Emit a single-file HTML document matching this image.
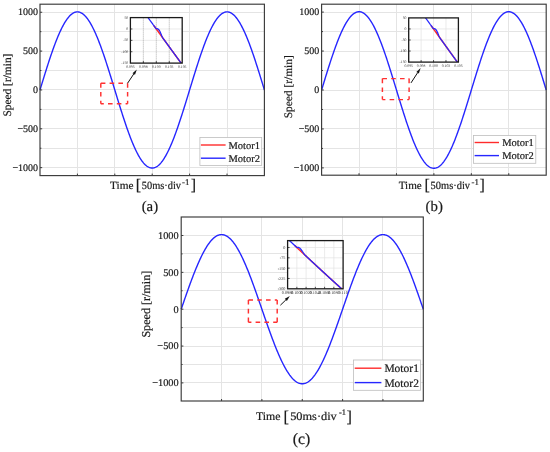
<!DOCTYPE html>
<html><head><meta charset="utf-8"><title>Motor speed</title>
<style>html,body{margin:0;padding:0;background:#fff;width:550px;height:452px;overflow:hidden}svg{display:block;text-rendering:geometricPrecision}text{stroke:#1a1a1a;stroke-width:0.2px}text.s{stroke:none}</style>
</head><body>
<svg width="550" height="452" viewBox="0 0 550 452" font-family="Liberation Serif, Times New Roman, serif" fill="#1a1a1a">
<rect width="550" height="452" fill="#ffffff"/>
<path d="M77.5 4.2V175.6M114.5 4.2V175.6M152.5 4.2V175.6M189.5 4.2V175.6M227.5 4.2V175.6M40 167.5H264.4M40 148.5H264.4M40 128.5H264.4M40 109.5H264.4M40 89.5H264.4M40 70.5H264.4M40 51.5H264.4M40 31.5H264.4M40 12.5H264.4" stroke="#e4e4e4" stroke-width="1.0" fill="none"/>
<path d="M40 89.95L40.5 88.31L41 86.67L41.5 85.02L42 83.39L42.5 81.75L43.01 80.12L43.51 78.49L44.01 76.87L44.51 75.25L45.01 73.64L45.51 72.04L46.01 70.45L46.51 68.86L47.01 67.28L47.51 65.72L48.01 64.16L48.52 62.61L49.02 61.08L49.52 59.56L50.02 58.06L50.52 56.56L51.02 55.09L51.52 53.62L52.02 52.18L52.52 50.75L53.02 49.34L53.52 47.94L54.02 46.57L54.53 45.21L55.03 43.87L55.53 42.56L56.03 41.26L56.53 39.99L57.03 38.74L57.53 37.51L58.03 36.3L58.53 35.12L59.03 33.96L59.53 32.83L60.04 31.72L60.54 30.64L61.04 29.59L61.54 28.56L62.04 27.56L62.54 26.58L63.04 25.64L63.54 24.72L64.04 23.83L64.54 22.97L65.04 22.14L65.55 21.34L66.05 20.57L66.55 19.83L67.05 19.13L67.55 18.45L68.05 17.81L68.55 17.19L69.05 16.61L69.55 16.06L70.05 15.55L70.55 15.07L71.06 14.62L71.56 14.2L72.06 13.82L72.56 13.47L73.06 13.16L73.56 12.87L74.06 12.63L74.56 12.42L75.06 12.24L75.56 12.09L76.06 11.98L76.57 11.91L77.07 11.87L77.57 11.86L78.07 11.89L78.57 11.96L79.07 12.05L79.57 12.19L80.07 12.35L80.57 12.55L81.07 12.79L81.57 13.06L82.07 13.36L82.58 13.7L83.08 14.07L83.58 14.48L84.08 14.91L84.58 15.38L85.08 15.89L85.58 16.43L86.08 17L86.58 17.6L87.08 18.23L87.58 18.9L88.09 19.59L88.59 20.32L89.09 21.08L89.59 21.87L90.09 22.69L90.59 23.54L91.09 24.42L91.59 25.33L92.09 26.26L92.59 27.23L93.09 28.22L93.6 29.24L94.1 30.29L94.6 31.36L95.1 32.46L95.6 33.58L96.1 34.73L96.6 35.91L97.1 37.1L97.6 38.33L98.1 39.57L98.6 40.84L99.11 42.12L99.61 43.43L100.11 44.76L100.61 46.11L101.11 47.48L101.61 48.87L102.11 50.28L102.61 51.7L103.11 53.14L103.61 54.6L104.11 56.07L104.62 57.56L105.12 59.06L105.62 60.57L106.12 62.1L106.62 63.64L107.12 65.2L107.62 66.76L108.12 68.33L108.62 69.92L109.12 71.51L109.62 73.11L110.12 74.72L110.63 76.33L111.13 77.95L111.63 79.58L112.13 81.21L112.63 82.84L113.13 84.48L113.63 86.12L114.13 87.76L114.63 89.4L115.13 91.05L115.63 92.69L116.14 94.33L116.64 95.97L117.14 97.6L117.64 99.24L118.14 100.87L118.64 102.49L119.14 104.11L119.64 105.72L120.14 107.33L120.64 108.92L121.14 110.51L121.65 112.09L122.15 113.66L122.65 115.22L123.15 116.77L123.65 118.31L124.15 119.83L124.65 121.34L125.15 122.84L125.65 124.32L126.15 125.79L126.65 127.24L127.16 128.68L127.66 130.1L128.16 131.5L128.66 132.88L129.16 134.24L129.66 135.58L130.16 136.91L130.66 138.21L131.16 139.49L131.66 140.75L132.16 141.98L132.67 143.2L133.17 144.39L133.67 145.55L134.17 146.69L134.67 147.81L135.17 148.9L135.67 149.96L136.17 151L136.67 152.01L137.17 153L137.67 153.95L138.17 154.88L138.68 155.78L139.18 156.65L139.68 157.49L140.18 158.29L140.68 159.07L141.18 159.82L141.68 160.54L142.18 161.23L142.68 161.88L143.18 162.51L143.68 163.1L144.19 163.66L144.69 164.18L145.19 164.68L145.69 165.14L146.19 165.56L146.69 165.96L147.19 166.32L147.69 166.64L148.19 166.94L148.69 167.19L149.19 167.42L149.7 167.61L150.2 167.76L150.7 167.88L151.2 167.97L151.7 168.02L152.2 168.04L152.7 168.02L153.2 167.97L153.7 167.88L154.2 167.76L154.7 167.61L155.21 167.42L155.71 167.19L156.21 166.94L156.71 166.64L157.21 166.32L157.71 165.96L158.21 165.56L158.71 165.14L159.21 164.68L159.71 164.18L160.21 163.66L160.72 163.1L161.22 162.51L161.72 161.88L162.22 161.23L162.72 160.54L163.22 159.82L163.72 159.07L164.22 158.29L164.72 157.49L165.22 156.65L165.72 155.78L166.22 154.88L166.73 153.95L167.23 153L167.73 152.01L168.23 151L168.73 149.96L169.23 148.9L169.73 147.81L170.23 146.69L170.73 145.55L171.23 144.39L171.73 143.2L172.24 141.98L172.74 140.75L173.24 139.49L173.74 138.21L174.24 136.91L174.74 135.58L175.24 134.24L175.74 132.88L176.24 131.5L176.74 130.1L177.24 128.68L177.75 127.24L178.25 125.79L178.75 124.32L179.25 122.84L179.75 121.34L180.25 119.83L180.75 118.31L181.25 116.77L181.75 115.22L182.25 113.66L182.75 112.09L183.26 110.51L183.76 108.92L184.26 107.33L184.76 105.72L185.26 104.11L185.76 102.49L186.26 100.87L186.76 99.24L187.26 97.6L187.76 95.97L188.26 94.33L188.77 92.69L189.27 91.05L189.77 89.4L190.27 87.76L190.77 86.12L191.27 84.48L191.77 82.84L192.27 81.21L192.77 79.58L193.27 77.95L193.77 76.33L194.28 74.72L194.78 73.11L195.28 71.51L195.78 69.92L196.28 68.33L196.78 66.76L197.28 65.2L197.78 63.64L198.28 62.1L198.78 60.57L199.28 59.06L199.78 57.56L200.29 56.07L200.79 54.6L201.29 53.14L201.79 51.7L202.29 50.28L202.79 48.87L203.29 47.48L203.79 46.11L204.29 44.76L204.79 43.43L205.29 42.12L205.8 40.84L206.3 39.57L206.8 38.33L207.3 37.1L207.8 35.91L208.3 34.73L208.8 33.58L209.3 32.46L209.8 31.36L210.3 30.29L210.8 29.24L211.31 28.22L211.81 27.23L212.31 26.26L212.81 25.33L213.31 24.42L213.81 23.54L214.31 22.69L214.81 21.87L215.31 21.08L215.81 20.32L216.31 19.59L216.82 18.9L217.32 18.23L217.82 17.6L218.32 17L218.82 16.43L219.32 15.89L219.82 15.38L220.32 14.91L220.82 14.48L221.32 14.07L221.82 13.7L222.32 13.36L222.83 13.06L223.33 12.79L223.83 12.55L224.33 12.35L224.83 12.19L225.33 12.05L225.83 11.96L226.33 11.89L226.83 11.86L227.33 11.87L227.83 11.91L228.34 11.98L228.84 12.09L229.34 12.24L229.84 12.42L230.34 12.63L230.84 12.87L231.34 13.16L231.84 13.47L232.34 13.82L232.84 14.2L233.34 14.62L233.85 15.07L234.35 15.55L234.85 16.06L235.35 16.61L235.85 17.19L236.35 17.81L236.85 18.45L237.35 19.13L237.85 19.83L238.35 20.57L238.85 21.34L239.36 22.14L239.86 22.97L240.36 23.83L240.86 24.72L241.36 25.64L241.86 26.58L242.36 27.56L242.86 28.56L243.36 29.59L243.86 30.64L244.36 31.72L244.87 32.83L245.37 33.96L245.87 35.12L246.37 36.3L246.87 37.51L247.37 38.74L247.87 39.99L248.37 41.26L248.87 42.56L249.37 43.87L249.87 45.21L250.37 46.57L250.88 47.94L251.38 49.34L251.88 50.75L252.38 52.18L252.88 53.62L253.38 55.09L253.88 56.56L254.38 58.06L254.88 59.56L255.38 61.08L255.88 62.61L256.39 64.16L256.89 65.72L257.39 67.28L257.89 68.86L258.39 70.45L258.89 72.04L259.39 73.64L259.89 75.25L260.39 76.87L260.89 78.49L261.39 80.12L261.9 81.75L262.4 83.39L262.9 85.02L263.4 86.67L263.9 88.31L264.4 89.95" stroke="#2626ff" stroke-width="1.4" fill="none" stroke-linejoin="round"/>
<path d="M40 167.65H42.2M40 148.23H41.4M40 128.8H42.2M40 109.38H41.4M40 89.95H42.2M40 70.53H41.4M40 51.1H42.2M40 31.67H41.4M40 12.25H42.2M77.4 175.6V173.6M114.8 175.6V173.6M152.2 175.6V173.6M189.6 175.6V173.6M227 175.6V173.6" stroke="#3a3a3a" stroke-width="1" fill="none"/>
<rect x="40" y="4.2" width="224.4" height="171.4" stroke="#3a3a3a" stroke-width="1.15" fill="none"/>
<text x="38.1" y="12.75" font-size="10" text-anchor="end" dominant-baseline="central">1000</text>
<text x="38.1" y="51.6" font-size="10" text-anchor="end" dominant-baseline="central">500</text>
<text x="38.1" y="90.45" font-size="10" text-anchor="end" dominant-baseline="central">0</text>
<text x="38.1" y="129.3" font-size="10" text-anchor="end" dominant-baseline="central">−500</text>
<text x="38.1" y="168.15" font-size="10" text-anchor="end" dominant-baseline="central">−1000</text>
<text transform="translate(10.8 85.1) rotate(-90)" font-size="11.4" text-anchor="middle">Speed [r/min]</text>
<text y="188.8" font-size="11">
<tspan x="110.1" textLength="23.4" lengthAdjust="spacingAndGlyphs">Time</tspan>
<tspan x="135.7" y="189.8" font-size="16">[</tspan>
<tspan x="141.8" y="188.8" textLength="39.2" lengthAdjust="spacingAndGlyphs">50ms·div</tspan>
<tspan x="182" y="184.5" font-size="8.8">-1</tspan>
<tspan x="190.8" y="189.8" font-size="16">]</tspan>
</text>
<text x="149.9" y="211" font-size="14.8" text-anchor="middle">(a)</text>
<rect x="199.9" y="137.4" width="61.8" height="28" fill="#fff" stroke="#bdbdbd" stroke-width="0.8"/>
<path d="M200.9 145H225.6" stroke="#ff2b2b" stroke-width="1.4"/>
<path d="M200.9 158.2H225.6" stroke="#2626ff" stroke-width="1.4"/>
<text x="228.4" y="148.5" font-size="10.5">Motor1</text>
<text x="228.4" y="161.6" font-size="10.5">Motor2</text>
<line x1="100.8" y1="83.2" x2="127.6" y2="83.2" stroke="#ff3030" stroke-width="1.45" stroke-dasharray="4.6 4.2" stroke-dashoffset="0"/>
<line x1="100.8" y1="83.2" x2="100.8" y2="103.7" stroke="#ff3030" stroke-width="1.45" stroke-dasharray="4.6 4.2" stroke-dashoffset="0"/>
<line x1="100.8" y1="103.7" x2="127.6" y2="103.7" stroke="#ff3030" stroke-width="1.45" stroke-dasharray="4.6 4.2" stroke-dashoffset="1.6"/>
<line x1="127.6" y1="83.2" x2="127.6" y2="103.7" stroke="#ff3030" stroke-width="1.45" stroke-dasharray="4.6 4.2" stroke-dashoffset="0"/>
<path d="M127.6 83.2L133.75 73.98" stroke="#111" stroke-width="1"/>
<path d="M136.8 69.4L135 74.81L132.5 73.14Z" fill="#111"/>
<rect x="130.4" y="17.6" width="51.8" height="45.5" fill="#fff"/>
<path d="M130.4 28.98H182.2M130.4 40.35H182.2M130.4 51.73H182.2" stroke="#e2e2e2" stroke-width="0.7" fill="none"/>
<path d="M143.35 17.6V63.1M156.3 17.6V63.1M169.25 17.6V63.1" stroke="#777" stroke-width="0.6" stroke-dasharray="1 1" fill="none"/>
<clipPath id="ca"><rect x="130.4" y="17.6" width="51.8" height="45.5"/></clipPath>
<g clip-path="url(#ca)">
<path d="M153.71 25.4L153.78 25.5L153.85 25.6L153.92 25.7L153.99 25.79L154.07 25.89L154.14 25.99L154.21 26.09L154.28 26.19L154.35 26.29L154.42 26.38L154.49 26.48L154.56 26.58L154.64 26.68L154.71 26.78L154.78 26.88L154.85 26.97L154.92 27.07L154.99 27.17L155.06 27.27L155.13 27.37L155.21 27.47L155.28 27.56L155.35 27.66L155.42 27.76L155.49 27.86L155.56 27.96L155.63 28.05L155.7 28.15L155.78 28.25L155.85 28.35L155.92 28.45L155.99 28.55L156.06 28.64L156.13 28.74L156.2 28.84L156.27 28.94L156.35 29.04L156.42 29.14L156.49 29.23L156.56 29.33L156.63 29.43L156.7 29.53L156.77 29.63L156.84 29.73L156.92 29.82L156.99 29.92L157.06 30.02L157.13 30.12L157.2 30.22L157.27 30.32L157.34 30.41L157.41 30.51L157.48 30.61L157.56 30.71L157.63 30.81L157.7 30.9L157.77 31L157.84 31.1L157.91 31.2L157.98 31.3L158.05 31.4L158.13 31.49L158.2 31.59L158.27 31.69L158.34 31.79L158.41 31.89L158.48 31.99L158.55 32.08L158.62 32.18L158.7 32.28L158.77 32.38L158.84 32.48L158.91 32.58L158.98 32.67L159.05 32.77L159.12 32.87L159.19 32.97L159.27 33.07L159.34 33.16L159.41 33.26L159.48 33.36L159.55 33.46L159.62 33.56L159.69 33.66L159.76 33.75L159.84 33.85L159.91 33.95L159.98 34.05L160.05 34.15L160.12 34.25L160.19 34.34L160.26 34.44L160.33 34.54L160.41 34.64L160.48 34.74L160.55 34.83L160.62 34.93L160.69 35.03L160.76 35.13L160.83 35.23L160.9 35.33L160.97 35.42L161.05 35.52L161.12 35.62L161.19 35.72L161.26 35.82L161.33 35.92L161.4 36.01L161.47 36.11L161.54 36.21L161.62 36.31L161.69 36.41L161.76 36.5L161.83 36.6L161.9 36.7L161.97 36.8L162.04 36.9L162.11 37L162.19 37.09L162.26 37.19L162.33 37.29L162.4 37.39L162.47 37.49L162.54 37.59L162.61 37.68L162.68 37.78L162.76 37.88L162.83 37.98L162.9 38.08L162.97 38.17L163.04 38.27L163.11 38.37L163.18 38.47L163.25 38.57L163.33 38.67L163.4 38.76L163.47 38.86L163.54 38.96L163.61 39.06L163.68 39.16L163.75 39.25L163.82 39.35L163.9 39.45L163.97 39.55L164.04 39.65L164.11 39.75L164.18 39.84L164.25 39.94L164.32 40.04L164.39 40.14L164.46 40.24L164.54 40.33L164.61 40.43L164.68 40.53L164.75 40.63L164.82 40.73L164.89 40.82L164.96 40.92L165.03 41.02L165.11 41.12L165.18 41.22L165.25 41.32L165.32 41.41L165.39 41.51L165.46 41.61L165.53 41.71L165.6 41.81L165.68 41.9L165.75 42L165.82 42.1L165.89 42.2L165.96 42.3L166.03 42.39L166.1 42.49L166.17 42.59L166.25 42.69L166.32 42.79L166.39 42.89L166.46 42.98L166.53 43.08L166.6 43.18L166.67 43.28L166.74 43.38L166.82 43.47L166.89 43.57L166.96 43.67L167.03 43.77L167.1 43.87L167.17 43.96L167.24 44.06L167.31 44.16L167.39 44.26L167.46 44.36L167.53 44.45L167.6 44.55L167.67 44.65L167.74 44.75L167.81 44.85L167.88 44.94L167.96 45.04L168.03 45.14L168.1 45.24L168.17 45.34L168.24 45.43L168.31 45.53L168.38 45.63L168.45 45.73L168.52 45.83L168.6 45.92L168.67 46.02L168.74 46.12L168.81 46.22L168.88 46.32L168.95 46.41L169.02 46.51L169.09 46.61L169.17 46.71L169.24 46.81L169.31 46.9L169.38 47L169.45 47.1L169.52 47.2L169.59 47.3L169.66 47.39L169.74 47.49L169.81 47.59L169.88 47.69L169.95 47.79L170.02 47.88L170.09 47.98L170.16 48.08L170.23 48.18L170.31 48.28L170.38 48.37L170.45 48.47L170.52 48.57L170.59 48.67L170.66 48.77L170.73 48.86L170.8 48.96L170.88 49.06L170.95 49.16L171.02 49.25L171.09 49.35L171.16 49.45L171.23 49.55L171.3 49.65L171.37 49.74L171.45 49.84L171.52 49.94L171.59 50.04L171.66 50.14L171.73 50.23L171.8 50.33L171.87 50.43L171.94 50.53L172.01 50.62L172.09 50.72L172.16 50.82L172.23 50.92L172.3 51.02L172.37 51.11L172.44 51.21L172.51 51.31L172.58 51.41L172.66 51.51L172.73 51.6L172.8 51.7L172.87 51.8L172.94 51.9L173.01 51.99L173.08 52.09L173.15 52.19L173.23 52.29L173.3 52.38L173.37 52.48L173.44 52.58L173.51 52.68L173.58 52.78L173.65 52.87L173.72 52.97L173.8 53.07L173.87 53.17L173.94 53.26L174.01 53.36L174.08 53.46L174.15 53.56L174.22 53.66L174.29 53.75L174.37 53.85L174.44 53.95L174.51 54.05L174.58 54.14L174.65 54.24L174.72 54.34L174.79 54.44L174.86 54.53L174.94 54.63L175.01 54.73L175.08 54.83L175.15 54.92L175.22 55.02L175.29 55.12L175.36 55.22L175.43 55.32L175.5 55.41L175.58 55.51L175.65 55.61L175.72 55.71L175.79 55.8L175.86 55.9L175.93 56L176 56.1L176.07 56.19L176.15 56.29L176.22 56.39L176.29 56.49L176.36 56.58L176.43 56.68L176.5 56.78L176.57 56.88L176.64 56.97L176.72 57.07L176.79 57.17L176.86 57.27L176.93 57.36L177 57.46L177.07 57.56L177.14 57.66L177.21 57.75L177.29 57.85L177.36 57.95L177.43 58.05L177.5 58.14L177.57 58.24L177.64 58.34L177.71 58.44L177.78 58.53L177.86 58.63L177.93 58.73L178 58.83L178.07 58.92L178.14 59.02L178.21 59.12L178.28 59.22L178.35 59.31L178.43 59.41L178.5 59.51L178.57 59.61L178.64 59.7L178.71 59.8L178.78 59.9L178.85 59.99L178.92 60.09L178.99 60.19L179.07 60.29L179.14 60.38L179.21 60.48L179.28 60.58L179.35 60.68L179.42 60.77L179.49 60.87L179.56 60.97L179.64 61.07L179.71 61.16L179.78 61.26L179.85 61.36L179.92 61.45L179.99 61.55L180.06 61.65L180.13 61.75L180.21 61.84L180.28 61.94L180.35 62.04L180.42 62.14L180.49 62.23L180.56 62.33L180.63 62.43L180.7 62.52L180.78 62.62L180.85 62.72L180.92 62.82L180.99 62.91L181.06 63.01L181.13 63.11L181.2 63.2L181.27 63.3L181.35 63.4L181.42 63.5L181.49 63.59L181.56 63.69L181.63 63.79L181.7 63.88L181.77 63.98L181.84 64.08L181.92 64.18L181.99 64.27L182.06 64.37L182.13 64.47L182.2 64.56" stroke="#ff2b2b" stroke-width="1.5" fill="none"/>
<path d="M130.4 -6.61L130.53 -6.44L130.66 -6.26L130.79 -6.08L130.92 -5.91L131.05 -5.73L131.18 -5.55L131.31 -5.38L131.44 -5.2L131.57 -5.02L131.69 -4.85L131.82 -4.67L131.95 -4.49L132.08 -4.32L132.21 -4.14L132.34 -3.96L132.47 -3.79L132.6 -3.61L132.73 -3.43L132.86 -3.26L132.99 -3.08L133.12 -2.9L133.25 -2.73L133.38 -2.55L133.51 -2.37L133.64 -2.2L133.77 -2.02L133.9 -1.84L134.03 -1.66L134.16 -1.49L134.28 -1.31L134.41 -1.13L134.54 -0.96L134.67 -0.78L134.8 -0.6L134.93 -0.42L135.06 -0.25L135.19 -0.07L135.32 0.11L135.45 0.28L135.58 0.46L135.71 0.64L135.84 0.82L135.97 0.99L136.1 1.17L136.23 1.35L136.36 1.53L136.49 1.7L136.62 1.88L136.75 2.06L136.88 2.24L137 2.41L137.13 2.59L137.26 2.77L137.39 2.95L137.52 3.12L137.65 3.3L137.78 3.48L137.91 3.66L138.04 3.83L138.17 4.01L138.3 4.19L138.43 4.37L138.56 4.54L138.69 4.72L138.82 4.9L138.95 5.08L139.08 5.25L139.21 5.43L139.34 5.61L139.47 5.79L139.59 5.96L139.72 6.14L139.85 6.32L139.98 6.5L140.11 6.68L140.24 6.85L140.37 7.03L140.5 7.21L140.63 7.39L140.76 7.57L140.89 7.74L141.02 7.92L141.15 8.1L141.28 8.28L141.41 8.45L141.54 8.63L141.67 8.81L141.8 8.99L141.93 9.17L142.06 9.34L142.18 9.52L142.31 9.7L142.44 9.88L142.57 10.06L142.7 10.24L142.83 10.41L142.96 10.59L143.09 10.77L143.22 10.95L143.35 11.13L143.48 11.3L143.61 11.48L143.74 11.66L143.87 11.84L144 12.02L144.13 12.19L144.26 12.37L144.39 12.55L144.52 12.73L144.65 12.91L144.77 13.09L144.9 13.26L145.03 13.44L145.16 13.62L145.29 13.8L145.42 13.98L145.55 14.16L145.68 14.33L145.81 14.51L145.94 14.69L146.07 14.87L146.2 15.05L146.33 15.23L146.46 15.4L146.59 15.58L146.72 15.76L146.85 15.94L146.98 16.12L147.11 16.3L147.24 16.47L147.36 16.65L147.49 16.83L147.62 17.01L147.75 17.19L147.88 17.37L148.01 17.54L148.14 17.72L148.27 17.9L148.4 18.08L148.53 18.26L148.66 18.44L148.79 18.62L148.92 18.79L149.05 18.97L149.18 19.15L149.31 19.33L149.44 19.51L149.57 19.69L149.7 19.86L149.83 20.04L149.95 20.22L150.08 20.4L150.21 20.58L150.34 20.76L150.47 20.94L150.6 21.11L150.73 21.29L150.86 21.47L150.99 21.65L151.12 21.83L151.25 22.01L151.38 22.19L151.51 22.36L151.64 22.54L151.77 22.72L151.9 22.9L152.03 23.08L152.16 23.26L152.29 23.44L152.42 23.62L152.54 23.79L152.67 23.97L152.8 24.15L152.93 24.33L153.06 24.51L153.19 24.69L153.32 24.87L153.45 25.04L153.58 25.22L153.71 25.4L153.84 25.58L153.97 25.76L154.1 25.94L154.23 26.12L154.36 26.29L154.49 26.47L154.62 26.65L154.75 26.83L154.88 27.01L155.01 27.19L155.13 27.37L155.26 27.55L155.39 27.72L155.52 27.9L155.65 28.08L155.78 28.26L155.91 28.44L156.04 28.62L156.17 28.62L156.3 28.62L156.43 28.62L156.56 28.63L156.69 28.63L156.82 28.64L156.95 28.66L157.08 28.68L157.21 28.71L157.34 28.74L157.47 28.78L157.59 28.83L157.72 28.89L157.85 28.95L157.98 29.03L158.11 29.11L158.24 29.21L158.37 29.31L158.5 29.43L158.63 29.55L158.76 29.69L158.89 29.84L159.02 30L159.15 30.18L159.28 30.36L159.41 30.56L159.54 30.78L159.67 31.01L159.8 31.25L159.93 31.51L160.06 31.78L160.18 32.06L160.31 32.35L160.44 32.64L160.57 32.95L160.7 33.26L160.83 33.58L160.96 33.9L161.09 34.22L161.22 34.54L161.35 34.86L161.48 35.18L161.61 35.49L161.74 35.8L161.87 36.09L162 36.38L162.13 36.66L162.26 36.93L162.39 37.19L162.52 37.43L162.65 37.66L162.77 37.88L162.9 38.08L163.03 38.26L163.16 38.44L163.29 38.62L163.42 38.8L163.55 38.98L163.68 39.16L163.81 39.33L163.94 39.51L164.07 39.69L164.2 39.87L164.33 40.05L164.46 40.23L164.59 40.41L164.72 40.58L164.85 40.76L164.98 40.94L165.11 41.12L165.24 41.3L165.36 41.48L165.49 41.65L165.62 41.83L165.75 42.01L165.88 42.19L166.01 42.37L166.14 42.55L166.27 42.72L166.4 42.9L166.53 43.08L166.66 43.26L166.79 43.44L166.92 43.62L167.05 43.79L167.18 43.97L167.31 44.15L167.44 44.33L167.57 44.51L167.7 44.69L167.83 44.86L167.95 45.04L168.08 45.22L168.21 45.4L168.34 45.58L168.47 45.76L168.6 45.93L168.73 46.11L168.86 46.29L168.99 46.47L169.12 46.65L169.25 46.82L169.38 47L169.51 47.18L169.64 47.36L169.77 47.54L169.9 47.71L170.03 47.89L170.16 48.07L170.29 48.25L170.42 48.43L170.54 48.61L170.67 48.78L170.8 48.96L170.93 49.14L171.06 49.32L171.19 49.5L171.32 49.67L171.45 49.85L171.58 50.03L171.71 50.21L171.84 50.38L171.97 50.56L172.1 50.74L172.23 50.92L172.36 51.1L172.49 51.27L172.62 51.45L172.75 51.63L172.88 51.81L173.01 51.99L173.13 52.16L173.26 52.34L173.39 52.52L173.52 52.7L173.65 52.87L173.78 53.05L173.91 53.23L174.04 53.41L174.17 53.58L174.3 53.76L174.43 53.94L174.56 54.12L174.69 54.29L174.82 54.47L174.95 54.65L175.08 54.83L175.21 55L175.34 55.18L175.47 55.36L175.6 55.54L175.72 55.71L175.85 55.89L175.98 56.07L176.11 56.25L176.24 56.42L176.37 56.6L176.5 56.78L176.63 56.96L176.76 57.13L176.89 57.31L177.02 57.49L177.15 57.67L177.28 57.84L177.41 58.02L177.54 58.2L177.67 58.37L177.8 58.55L177.93 58.73L178.06 58.91L178.19 59.08L178.31 59.26L178.44 59.44L178.57 59.61L178.7 59.79L178.83 59.97L178.96 60.15L179.09 60.32L179.22 60.5L179.35 60.68L179.48 60.85L179.61 61.03L179.74 61.21L179.87 61.38L180 61.56L180.13 61.74L180.26 61.91L180.39 62.09L180.52 62.27L180.65 62.44L180.78 62.62L180.9 62.8L181.03 62.97L181.16 63.15L181.29 63.33L181.42 63.5L181.55 63.68L181.68 63.86L181.81 64.03L181.94 64.21L182.07 64.39L182.2 64.56" stroke="#2626ff" stroke-width="1.3" fill="none"/>
</g>
<path d="M130.4 28.98H132.4M130.4 40.35H132.4M130.4 51.73H132.4M143.35 63.1V61.1M156.3 63.1V61.1M169.25 63.1V61.1" stroke="#222" stroke-width="0.8" fill="none"/>
<rect x="130.4" y="17.6" width="51.8" height="45.5" fill="none" stroke="#1a1a1a" stroke-width="1.3"/>
<text x="128.2" y="17.6" font-size="3.8" text-anchor="end" dominant-baseline="central" fill="#333" class="s">50</text>
<text x="128.2" y="28.98" font-size="3.8" text-anchor="end" dominant-baseline="central" fill="#333" class="s">0</text>
<text x="128.2" y="40.35" font-size="3.8" text-anchor="end" dominant-baseline="central" fill="#333" class="s">-50</text>
<text x="128.2" y="51.73" font-size="3.8" text-anchor="end" dominant-baseline="central" fill="#333" class="s">-100</text>
<text x="128.2" y="63.1" font-size="3.8" text-anchor="end" dominant-baseline="central" fill="#333" class="s">-150</text>
<text x="130.4" y="67.9" font-size="3.8" text-anchor="middle" fill="#333" class="s">0.095</text>
<text x="143.35" y="67.9" font-size="3.8" text-anchor="middle" fill="#333" class="s">0.098</text>
<text x="156.3" y="67.9" font-size="3.8" text-anchor="middle" fill="#333" class="s">0.100</text>
<text x="169.25" y="67.9" font-size="3.8" text-anchor="middle" fill="#333" class="s">0.103</text>
<text x="182.2" y="67.9" font-size="3.8" text-anchor="middle" fill="#333" class="s">0.105</text>
<path d="M359.5 4.2V175.2M396.5 4.2V175.2M433.5 4.2V175.2M471.5 4.2V175.2M508.5 4.2V175.2M321.6 167.5H546.2M321.6 148.5H546.2M321.6 128.5H546.2M321.6 109.5H546.2M321.6 90.5H546.2M321.6 70.5H546.2M321.6 51.5H546.2M321.6 31.5H546.2M321.6 12.5H546.2" stroke="#e4e4e4" stroke-width="1.0" fill="none"/>
<path d="M321.6 90L322.1 88.36L322.6 86.71L323.1 85.07L323.6 83.43L324.1 81.8L324.6 80.17L325.1 78.54L325.6 76.91L326.1 75.3L326.6 73.69L327.1 72.08L327.6 70.49L328.1 68.9L328.6 67.32L329.1 65.76L329.6 64.2L330.1 62.65L330.6 61.12L331.1 59.6L331.6 58.09L332.1 56.6L332.6 55.12L333.11 53.65L333.61 52.21L334.11 50.78L334.61 49.36L335.11 47.97L335.61 46.59L336.11 45.23L336.61 43.89L337.11 42.58L337.61 41.28L338.11 40L338.61 38.75L339.11 37.52L339.61 36.31L340.11 35.13L340.61 33.97L341.11 32.83L341.61 31.72L342.11 30.64L342.61 29.58L343.11 28.55L343.61 27.54L344.11 26.57L344.61 25.62L345.11 24.7L345.61 23.8L346.11 22.94L346.61 22.11L347.11 21.3L347.61 20.53L348.11 19.79L348.61 19.08L349.11 18.4L349.61 17.75L350.11 17.13L350.61 16.55L351.11 15.99L351.61 15.47L352.11 14.99L352.61 14.53L353.11 14.11L353.61 13.73L354.11 13.37L354.61 13.05L355.11 12.77L355.62 12.51L356.12 12.3L356.62 12.11L357.12 11.96L357.62 11.85L358.12 11.77L358.62 11.72L359.12 11.71L359.62 11.73L360.12 11.79L360.62 11.88L361.12 12.01L361.62 12.17L362.12 12.37L362.62 12.59L363.12 12.86L363.62 13.16L364.12 13.49L364.62 13.85L365.12 14.25L365.62 14.68L366.12 15.15L366.62 15.64L367.12 16.18L367.62 16.74L368.12 17.33L368.62 17.96L369.12 18.62L369.62 19.31L370.12 20.03L370.62 20.79L371.12 21.57L371.62 22.38L372.12 23.23L372.62 24.1L373.12 25L373.62 25.93L374.12 26.89L374.62 27.87L375.12 28.89L375.62 29.93L376.12 31L376.62 32.09L377.12 33.21L377.62 34.35L378.13 35.52L378.63 36.71L379.13 37.93L379.63 39.17L380.13 40.43L380.63 41.71L381.13 43.01L381.63 44.34L382.13 45.68L382.63 47.05L383.13 48.43L383.63 49.83L384.13 51.25L384.63 52.69L385.13 54.14L385.63 55.61L386.13 57.09L386.63 58.59L387.13 60.1L387.63 61.63L388.13 63.17L388.63 64.72L389.13 66.28L389.63 67.85L390.13 69.43L390.63 71.02L391.13 72.62L391.63 74.22L392.13 75.84L392.63 77.46L393.13 79.08L393.63 80.71L394.13 82.34L394.63 83.98L395.13 85.62L395.63 87.26L396.13 88.9L396.63 90.55L397.13 92.19L397.63 93.83L398.13 95.47L398.63 97.11L399.13 98.75L399.63 100.38L400.13 102L400.64 103.62L401.14 105.24L401.64 106.85L402.14 108.45L402.64 110.04L403.14 111.63L403.64 113.2L404.14 114.77L404.64 116.32L405.14 117.86L405.64 119.39L406.14 120.91L406.64 122.41L407.14 123.9L407.64 125.37L408.14 126.83L408.64 128.27L409.14 129.7L409.64 131.1L410.14 132.49L410.64 133.86L411.14 135.22L411.64 136.55L412.14 137.86L412.64 139.15L413.14 140.42L413.64 141.66L414.14 142.89L414.64 144.09L415.14 145.26L415.64 146.41L416.14 147.54L416.64 148.64L417.14 149.72L417.64 150.77L418.14 151.79L418.64 152.79L419.14 153.75L419.64 154.69L420.14 155.6L420.64 156.49L421.14 157.34L421.64 158.16L422.14 158.96L422.64 159.72L423.15 160.45L423.65 161.15L424.15 161.82L424.65 162.46L425.15 163.07L425.65 163.64L426.15 164.18L426.65 164.69L427.15 165.17L427.65 165.61L428.15 166.02L428.65 166.4L429.15 166.74L429.65 167.05L430.15 167.32L430.65 167.56L431.15 167.77L431.65 167.94L432.15 168.08L432.65 168.18L433.15 168.25L433.65 168.29L434.15 168.29L434.65 168.25L435.15 168.18L435.65 168.08L436.15 167.94L436.65 167.77L437.15 167.56L437.65 167.32L438.15 167.05L438.65 166.74L439.15 166.4L439.65 166.02L440.15 165.61L440.65 165.17L441.15 164.69L441.65 164.18L442.15 163.64L442.65 163.07L443.15 162.46L443.65 161.82L444.15 161.15L444.65 160.45L445.16 159.72L445.66 158.96L446.16 158.16L446.66 157.34L447.16 156.49L447.66 155.6L448.16 154.69L448.66 153.75L449.16 152.79L449.66 151.79L450.16 150.77L450.66 149.72L451.16 148.64L451.66 147.54L452.16 146.41L452.66 145.26L453.16 144.09L453.66 142.89L454.16 141.66L454.66 140.42L455.16 139.15L455.66 137.86L456.16 136.55L456.66 135.22L457.16 133.86L457.66 132.49L458.16 131.1L458.66 129.7L459.16 128.27L459.66 126.83L460.16 125.37L460.66 123.9L461.16 122.41L461.66 120.91L462.16 119.39L462.66 117.86L463.16 116.32L463.66 114.77L464.16 113.2L464.66 111.63L465.16 110.04L465.66 108.45L466.16 106.85L466.66 105.24L467.16 103.62L467.67 102L468.17 100.38L468.67 98.75L469.17 97.11L469.67 95.47L470.17 93.83L470.67 92.19L471.17 90.55L471.67 88.9L472.17 87.26L472.67 85.62L473.17 83.98L473.67 82.34L474.17 80.71L474.67 79.08L475.17 77.46L475.67 75.84L476.17 74.22L476.67 72.62L477.17 71.02L477.67 69.43L478.17 67.85L478.67 66.28L479.17 64.72L479.67 63.17L480.17 61.63L480.67 60.1L481.17 58.59L481.67 57.09L482.17 55.61L482.67 54.14L483.17 52.69L483.67 51.25L484.17 49.83L484.67 48.43L485.17 47.05L485.67 45.68L486.17 44.34L486.67 43.01L487.17 41.71L487.67 40.43L488.17 39.17L488.67 37.93L489.17 36.71L489.67 35.52L490.18 34.35L490.68 33.21L491.18 32.09L491.68 31L492.18 29.93L492.68 28.89L493.18 27.87L493.68 26.89L494.18 25.93L494.68 25L495.18 24.1L495.68 23.23L496.18 22.38L496.68 21.57L497.18 20.79L497.68 20.03L498.18 19.31L498.68 18.62L499.18 17.96L499.68 17.33L500.18 16.74L500.68 16.18L501.18 15.64L501.68 15.15L502.18 14.68L502.68 14.25L503.18 13.85L503.68 13.49L504.18 13.16L504.68 12.86L505.18 12.59L505.68 12.37L506.18 12.17L506.68 12.01L507.18 11.88L507.68 11.79L508.18 11.73L508.68 11.71L509.18 11.72L509.68 11.77L510.18 11.85L510.68 11.96L511.18 12.11L511.68 12.3L512.18 12.51L512.69 12.77L513.19 13.05L513.69 13.37L514.19 13.73L514.69 14.11L515.19 14.53L515.69 14.99L516.19 15.47L516.69 15.99L517.19 16.55L517.69 17.13L518.19 17.75L518.69 18.4L519.19 19.08L519.69 19.79L520.19 20.53L520.69 21.3L521.19 22.11L521.69 22.94L522.19 23.8L522.69 24.7L523.19 25.62L523.69 26.57L524.19 27.54L524.69 28.55L525.19 29.58L525.69 30.64L526.19 31.72L526.69 32.83L527.19 33.97L527.69 35.13L528.19 36.31L528.69 37.52L529.19 38.75L529.69 40L530.19 41.28L530.69 42.58L531.19 43.89L531.69 45.23L532.19 46.59L532.69 47.97L533.19 49.36L533.69 50.78L534.19 52.21L534.69 53.65L535.2 55.12L535.7 56.6L536.2 58.09L536.7 59.6L537.2 61.12L537.7 62.65L538.2 64.2L538.7 65.76L539.2 67.32L539.7 68.9L540.2 70.49L540.7 72.08L541.2 73.69L541.7 75.3L542.2 76.91L542.7 78.54L543.2 80.17L543.7 81.8L544.2 83.43L544.7 85.07L545.2 86.71L545.7 88.36L546.2 90" stroke="#2626ff" stroke-width="1.4" fill="none" stroke-linejoin="round"/>
<path d="M321.6 167.9H323.8M321.6 148.43H323M321.6 128.95H323.8M321.6 109.47H323M321.6 90H323.8M321.6 70.53H323M321.6 51.05H323.8M321.6 31.58H323M321.6 12.1H323.8M359.03 175.2V173.2M396.47 175.2V173.2M433.9 175.2V173.2M471.33 175.2V173.2M508.77 175.2V173.2" stroke="#3a3a3a" stroke-width="1" fill="none"/>
<rect x="321.6" y="4.2" width="224.6" height="171" stroke="#3a3a3a" stroke-width="1.15" fill="none"/>
<text x="319.3" y="12.6" font-size="10" text-anchor="end" dominant-baseline="central">1000</text>
<text x="319.3" y="51.55" font-size="10" text-anchor="end" dominant-baseline="central">500</text>
<text x="319.3" y="90.5" font-size="10" text-anchor="end" dominant-baseline="central">0</text>
<text x="319.3" y="129.45" font-size="10" text-anchor="end" dominant-baseline="central">−500</text>
<text x="319.3" y="168.4" font-size="10" text-anchor="end" dominant-baseline="central">−1000</text>
<text transform="translate(292.4 86.8) rotate(-90)" font-size="11.4" text-anchor="middle">Speed [r/min]</text>
<text y="188.8" font-size="11">
<tspan x="398.7" textLength="23.1" lengthAdjust="spacingAndGlyphs">Time</tspan>
<tspan x="424.4" y="189.8" font-size="16">[</tspan>
<tspan x="430.6" y="188.8" textLength="39.4" lengthAdjust="spacingAndGlyphs">50ms·div</tspan>
<tspan x="471.5" y="184.5" font-size="8.8">-1</tspan>
<tspan x="479.4" y="189.8" font-size="16">]</tspan>
</text>
<text x="434.2" y="211" font-size="14.8" text-anchor="middle">(b)</text>
<rect x="473.5" y="135.4" width="62.3" height="27.9" fill="#fff" stroke="#bdbdbd" stroke-width="0.8"/>
<path d="M474.6 142.5H499" stroke="#ff2b2b" stroke-width="1.4"/>
<path d="M474.6 155.6H499" stroke="#2626ff" stroke-width="1.4"/>
<text x="502.2" y="146.3" font-size="10.5">Motor1</text>
<text x="502.2" y="159.4" font-size="10.5">Motor2</text>
<line x1="382.4" y1="78.6" x2="409.1" y2="78.6" stroke="#ff3030" stroke-width="1.45" stroke-dasharray="4.6 4.2" stroke-dashoffset="0"/>
<line x1="382.4" y1="78.6" x2="382.4" y2="99.6" stroke="#ff3030" stroke-width="1.45" stroke-dasharray="4.6 4.2" stroke-dashoffset="0"/>
<line x1="382.4" y1="99.6" x2="409.1" y2="99.6" stroke="#ff3030" stroke-width="1.45" stroke-dasharray="4.6 4.2" stroke-dashoffset="1.6"/>
<line x1="409.1" y1="78.6" x2="409.1" y2="99.6" stroke="#ff3030" stroke-width="1.45" stroke-dasharray="4.6 4.2" stroke-dashoffset="0"/>
<path d="M411 82.9L417.61 72.71" stroke="#111" stroke-width="1"/>
<path d="M420.6 68.1L418.87 73.53L416.35 71.9Z" fill="#111"/>
<rect x="408.7" y="17.9" width="49.7" height="44.2" fill="#fff"/>
<path d="M408.7 28.95H458.4M408.7 40H458.4M408.7 51.05H458.4" stroke="#e2e2e2" stroke-width="0.7" fill="none"/>
<path d="M421.12 17.9V62.1M433.55 17.9V62.1M445.97 17.9V62.1" stroke="#e2e2e2" stroke-width="0.7" fill="none"/>
<clipPath id="cb"><rect x="408.7" y="17.9" width="49.7" height="44.2"/></clipPath>
<g clip-path="url(#cb)">
<path d="M431.06 25.48L431.13 25.57L431.2 25.67L431.27 25.77L431.34 25.86L431.41 25.96L431.48 26.05L431.54 26.15L431.61 26.24L431.68 26.34L431.75 26.43L431.82 26.53L431.89 26.62L431.95 26.72L432.02 26.82L432.09 26.91L432.16 27.01L432.23 27.1L432.3 27.2L432.36 27.29L432.43 27.39L432.5 27.48L432.57 27.58L432.64 27.67L432.71 27.77L432.77 27.87L432.84 27.96L432.91 28.06L432.98 28.15L433.05 28.25L433.12 28.34L433.18 28.44L433.25 28.53L433.32 28.63L433.39 28.72L433.46 28.82L433.53 28.92L433.59 29.01L433.66 29.11L433.73 29.2L433.8 29.3L433.87 29.39L433.94 29.49L434 29.58L434.07 29.68L434.14 29.77L434.21 29.87L434.28 29.97L434.35 30.06L434.41 30.16L434.48 30.25L434.55 30.35L434.62 30.44L434.69 30.54L434.76 30.63L434.82 30.73L434.89 30.82L434.96 30.92L435.03 31.02L435.1 31.11L435.17 31.21L435.23 31.3L435.3 31.4L435.37 31.49L435.44 31.59L435.51 31.68L435.58 31.78L435.64 31.87L435.71 31.97L435.78 32.07L435.85 32.16L435.92 32.26L435.99 32.35L436.05 32.45L436.12 32.54L436.19 32.64L436.26 32.73L436.33 32.83L436.4 32.92L436.46 33.02L436.53 33.12L436.6 33.21L436.67 33.31L436.74 33.4L436.81 33.5L436.87 33.59L436.94 33.69L437.01 33.78L437.08 33.88L437.15 33.97L437.22 34.07L437.28 34.17L437.35 34.26L437.42 34.36L437.49 34.45L437.56 34.55L437.63 34.64L437.69 34.74L437.76 34.83L437.83 34.93L437.9 35.02L437.97 35.12L438.04 35.22L438.1 35.31L438.17 35.41L438.24 35.5L438.31 35.6L438.38 35.69L438.45 35.79L438.51 35.88L438.58 35.98L438.65 36.07L438.72 36.17L438.79 36.26L438.86 36.36L438.92 36.46L438.99 36.55L439.06 36.65L439.13 36.74L439.2 36.84L439.27 36.93L439.33 37.03L439.4 37.12L439.47 37.22L439.54 37.31L439.61 37.41L439.68 37.51L439.74 37.6L439.81 37.7L439.88 37.79L439.95 37.89L440.02 37.98L440.09 38.08L440.15 38.17L440.22 38.27L440.29 38.36L440.36 38.46L440.43 38.55L440.5 38.65L440.56 38.74L440.63 38.84L440.7 38.94L440.77 39.03L440.84 39.13L440.91 39.22L440.97 39.32L441.04 39.41L441.11 39.51L441.18 39.6L441.25 39.7L441.32 39.79L441.38 39.89L441.45 39.98L441.52 40.08L441.59 40.18L441.66 40.27L441.73 40.37L441.79 40.46L441.86 40.56L441.93 40.65L442 40.75L442.07 40.84L442.14 40.94L442.2 41.03L442.27 41.13L442.34 41.22L442.41 41.32L442.48 41.41L442.55 41.51L442.61 41.61L442.68 41.7L442.75 41.8L442.82 41.89L442.89 41.99L442.96 42.08L443.02 42.18L443.09 42.27L443.16 42.37L443.23 42.46L443.3 42.56L443.37 42.65L443.43 42.75L443.5 42.84L443.57 42.94L443.64 43.03L443.71 43.13L443.78 43.23L443.84 43.32L443.91 43.42L443.98 43.51L444.05 43.61L444.12 43.7L444.19 43.8L444.25 43.89L444.32 43.99L444.39 44.08L444.46 44.18L444.53 44.27L444.6 44.37L444.66 44.46L444.73 44.56L444.8 44.65L444.87 44.75L444.94 44.84L445.01 44.94L445.07 45.03L445.14 45.13L445.21 45.23L445.28 45.32L445.35 45.42L445.42 45.51L445.48 45.61L445.55 45.7L445.62 45.8L445.69 45.89L445.76 45.99L445.83 46.08L445.89 46.18L445.96 46.27L446.03 46.37L446.1 46.46L446.17 46.56L446.24 46.65L446.3 46.75L446.37 46.84L446.44 46.94L446.51 47.03L446.58 47.13L446.65 47.22L446.71 47.32L446.78 47.41L446.85 47.51L446.92 47.6L446.99 47.7L447.06 47.79L447.12 47.89L447.19 47.98L447.26 48.08L447.33 48.17L447.4 48.27L447.47 48.37L447.53 48.46L447.6 48.56L447.67 48.65L447.74 48.75L447.81 48.84L447.88 48.94L447.94 49.03L448.01 49.13L448.08 49.22L448.15 49.32L448.22 49.41L448.29 49.51L448.35 49.6L448.42 49.7L448.49 49.79L448.56 49.89L448.63 49.98L448.7 50.08L448.76 50.17L448.83 50.27L448.9 50.36L448.97 50.46L449.04 50.55L449.11 50.65L449.17 50.74L449.24 50.84L449.31 50.93L449.38 51.03L449.45 51.12L449.52 51.22L449.58 51.31L449.65 51.41L449.72 51.5L449.79 51.6L449.86 51.69L449.93 51.79L449.99 51.88L450.06 51.98L450.13 52.07L450.2 52.17L450.27 52.26L450.34 52.36L450.4 52.45L450.47 52.55L450.54 52.64L450.61 52.74L450.68 52.83L450.75 52.93L450.81 53.02L450.88 53.12L450.95 53.21L451.02 53.3L451.09 53.4L451.16 53.49L451.22 53.59L451.29 53.68L451.36 53.78L451.43 53.87L451.5 53.97L451.57 54.06L451.63 54.16L451.7 54.25L451.77 54.35L451.84 54.44L451.91 54.54L451.98 54.63L452.04 54.73L452.11 54.82L452.18 54.92L452.25 55.01L452.32 55.11L452.39 55.2L452.45 55.3L452.52 55.39L452.59 55.49L452.66 55.58L452.73 55.68L452.8 55.77L452.86 55.86L452.93 55.96L453 56.05L453.07 56.15L453.14 56.24L453.21 56.34L453.27 56.43L453.34 56.53L453.41 56.62L453.48 56.72L453.55 56.81L453.62 56.91L453.68 57L453.75 57.1L453.82 57.19L453.89 57.29L453.96 57.38L454.03 57.48L454.09 57.57L454.16 57.66L454.23 57.76L454.3 57.85L454.37 57.95L454.44 58.04L454.5 58.14L454.57 58.23L454.64 58.33L454.71 58.42L454.78 58.52L454.85 58.61L454.91 58.71L454.98 58.8L455.05 58.89L455.12 58.99L455.19 59.08L455.26 59.18L455.32 59.27L455.39 59.37L455.46 59.46L455.53 59.56L455.6 59.65L455.67 59.75L455.73 59.84L455.8 59.93L455.87 60.03L455.94 60.12L456.01 60.22L456.08 60.31L456.14 60.41L456.21 60.5L456.28 60.6L456.35 60.69L456.42 60.78L456.49 60.88L456.55 60.97L456.62 61.07L456.69 61.16L456.76 61.26L456.83 61.35L456.9 61.45L456.96 61.54L457.03 61.63L457.1 61.73L457.17 61.82L457.24 61.92L457.31 62.01L457.37 62.11L457.44 62.2L457.51 62.3L457.58 62.39L457.65 62.48L457.72 62.58L457.78 62.67L457.85 62.77L457.92 62.86L457.99 62.96L458.06 63.05L458.13 63.14L458.19 63.24L458.26 63.33L458.33 63.43L458.4 63.52" stroke="#ff2b2b" stroke-width="1.5" fill="none"/>
<path d="M408.7 -5.62L408.82 -5.45L408.95 -5.28L409.07 -5.11L409.2 -4.94L409.32 -4.76L409.45 -4.59L409.57 -4.42L409.69 -4.25L409.82 -4.08L409.94 -3.91L410.07 -3.73L410.19 -3.56L410.32 -3.39L410.44 -3.22L410.56 -3.05L410.69 -2.88L410.81 -2.7L410.94 -2.53L411.06 -2.36L411.19 -2.19L411.31 -2.02L411.43 -1.85L411.56 -1.67L411.68 -1.5L411.81 -1.33L411.93 -1.16L412.05 -0.99L412.18 -0.81L412.3 -0.64L412.43 -0.47L412.55 -0.3L412.68 -0.13L412.8 0.05L412.92 0.22L413.05 0.39L413.17 0.56L413.3 0.73L413.42 0.91L413.55 1.08L413.67 1.25L413.79 1.42L413.92 1.6L414.04 1.77L414.17 1.94L414.29 2.11L414.42 2.28L414.54 2.46L414.66 2.63L414.79 2.8L414.91 2.97L415.04 3.15L415.16 3.32L415.29 3.49L415.41 3.66L415.53 3.84L415.66 4.01L415.78 4.18L415.91 4.35L416.03 4.53L416.15 4.7L416.28 4.87L416.4 5.04L416.53 5.22L416.65 5.39L416.78 5.56L416.9 5.73L417.02 5.91L417.15 6.08L417.27 6.25L417.4 6.42L417.52 6.6L417.65 6.77L417.77 6.94L417.89 7.12L418.02 7.29L418.14 7.46L418.27 7.63L418.39 7.81L418.52 7.98L418.64 8.15L418.76 8.32L418.89 8.5L419.01 8.67L419.14 8.84L419.26 9.02L419.39 9.19L419.51 9.36L419.63 9.53L419.76 9.71L419.88 9.88L420.01 10.05L420.13 10.23L420.26 10.4L420.38 10.57L420.5 10.75L420.63 10.92L420.75 11.09L420.88 11.26L421 11.44L421.12 11.61L421.25 11.78L421.37 11.96L421.5 12.13L421.62 12.3L421.75 12.48L421.87 12.65L421.99 12.82L422.12 13L422.24 13.17L422.37 13.34L422.49 13.51L422.62 13.69L422.74 13.86L422.86 14.03L422.99 14.21L423.11 14.38L423.24 14.55L423.36 14.73L423.49 14.9L423.61 15.07L423.73 15.25L423.86 15.42L423.98 15.59L424.11 15.77L424.23 15.94L424.36 16.11L424.48 16.29L424.6 16.46L424.73 16.63L424.85 16.81L424.98 16.98L425.1 17.15L425.23 17.33L425.35 17.5L425.47 17.67L425.6 17.85L425.72 18.02L425.85 18.19L425.97 18.37L426.1 18.54L426.22 18.71L426.34 18.89L426.47 19.06L426.59 19.23L426.72 19.41L426.84 19.58L426.96 19.75L427.09 19.93L427.21 20.1L427.34 20.27L427.46 20.45L427.59 20.62L427.71 20.79L427.83 20.97L427.96 21.14L428.08 21.31L428.21 21.49L428.33 21.66L428.46 21.83L428.58 22.01L428.7 22.18L428.83 22.36L428.95 22.53L429.08 22.7L429.2 22.88L429.33 23.05L429.45 23.22L429.57 23.4L429.7 23.57L429.82 23.74L429.95 23.92L430.07 24.09L430.2 24.26L430.32 24.44L430.44 24.61L430.57 24.78L430.69 24.96L430.82 25.13L430.94 25.31L431.06 25.48L431.19 25.65L431.31 25.83L431.44 26L431.56 26.17L431.69 26.35L431.81 26.52L431.93 26.69L432.06 26.87L432.18 27.04L432.31 27.21L432.43 27.39L432.56 27.56L432.68 27.73L432.8 27.91L432.93 28.08L433.05 28.26L433.18 28.43L433.3 28.6L433.43 28.6L433.55 28.6L433.67 28.61L433.8 28.61L433.92 28.62L434.05 28.63L434.17 28.64L434.3 28.67L434.42 28.69L434.54 28.72L434.67 28.76L434.79 28.81L434.92 28.87L435.04 28.93L435.17 29L435.29 29.08L435.41 29.18L435.54 29.28L435.66 29.39L435.79 29.51L435.91 29.65L436.03 29.79L436.16 29.95L436.28 30.12L436.41 30.3L436.53 30.49L436.66 30.7L436.78 30.93L436.9 31.16L437.03 31.41L437.15 31.67L437.28 31.94L437.4 32.22L437.53 32.51L437.65 32.81L437.77 33.12L437.9 33.42L438.02 33.73L438.15 34.05L438.27 34.36L438.4 34.67L438.52 34.98L438.64 35.28L438.77 35.58L438.89 35.87L439.02 36.15L439.14 36.42L439.27 36.68L439.39 36.93L439.51 37.16L439.64 37.39L439.76 37.6L439.89 37.79L440.01 37.97L440.14 38.15L440.26 38.32L440.38 38.49L440.51 38.67L440.63 38.84L440.76 39.01L440.88 39.19L441 39.36L441.13 39.53L441.25 39.71L441.38 39.88L441.5 40.05L441.63 40.23L441.75 40.4L441.87 40.57L442 40.75L442.12 40.92L442.25 41.09L442.37 41.27L442.5 41.44L442.62 41.61L442.74 41.79L442.87 41.96L442.99 42.13L443.12 42.31L443.24 42.48L443.37 42.65L443.49 42.83L443.61 43L443.74 43.17L443.86 43.35L443.99 43.52L444.11 43.69L444.24 43.87L444.36 44.04L444.48 44.21L444.61 44.39L444.73 44.56L444.86 44.73L444.98 44.9L445.11 45.08L445.23 45.25L445.35 45.42L445.48 45.6L445.6 45.77L445.73 45.94L445.85 46.12L445.97 46.29L446.1 46.46L446.22 46.64L446.35 46.81L446.47 46.98L446.6 47.15L446.72 47.33L446.84 47.5L446.97 47.67L447.09 47.85L447.22 48.02L447.34 48.19L447.47 48.37L447.59 48.54L447.71 48.71L447.84 48.88L447.96 49.06L448.09 49.23L448.21 49.4L448.34 49.58L448.46 49.75L448.58 49.92L448.71 50.09L448.83 50.27L448.96 50.44L449.08 50.61L449.21 50.78L449.33 50.96L449.45 51.13L449.58 51.3L449.7 51.48L449.83 51.65L449.95 51.82L450.08 51.99L450.2 52.17L450.32 52.34L450.45 52.51L450.57 52.68L450.7 52.86L450.82 53.03L450.94 53.2L451.07 53.37L451.19 53.55L451.32 53.72L451.44 53.89L451.57 54.06L451.69 54.24L451.81 54.41L451.94 54.58L452.06 54.75L452.19 54.93L452.31 55.1L452.44 55.27L452.56 55.44L452.68 55.62L452.81 55.79L452.93 55.96L453.06 56.13L453.18 56.3L453.31 56.48L453.43 56.65L453.55 56.82L453.68 56.99L453.8 57.17L453.93 57.34L454.05 57.51L454.18 57.68L454.3 57.85L454.42 58.03L454.55 58.2L454.67 58.37L454.8 58.54L454.92 58.71L455.05 58.89L455.17 59.06L455.29 59.23L455.42 59.4L455.54 59.57L455.67 59.75L455.79 59.92L455.91 60.09L456.04 60.26L456.16 60.43L456.29 60.6L456.41 60.78L456.54 60.95L456.66 61.12L456.78 61.29L456.91 61.46L457.03 61.63L457.16 61.81L457.28 61.98L457.41 62.15L457.53 62.32L457.65 62.49L457.78 62.66L457.9 62.84L458.03 63.01L458.15 63.18L458.28 63.35L458.4 63.52" stroke="#2626ff" stroke-width="1.3" fill="none"/>
</g>
<path d="M408.7 28.95H410.7M408.7 40H410.7M408.7 51.05H410.7M421.12 62.1V60.1M433.55 62.1V60.1M445.97 62.1V60.1" stroke="#222" stroke-width="0.8" fill="none"/>
<rect x="408.7" y="17.9" width="49.7" height="44.2" fill="none" stroke="#1a1a1a" stroke-width="1.3"/>
<text x="406.5" y="17.9" font-size="3.8" text-anchor="end" dominant-baseline="central" fill="#333" class="s">50</text>
<text x="406.5" y="28.95" font-size="3.8" text-anchor="end" dominant-baseline="central" fill="#333" class="s">0</text>
<text x="406.5" y="40" font-size="3.8" text-anchor="end" dominant-baseline="central" fill="#333" class="s">-50</text>
<text x="406.5" y="51.05" font-size="3.8" text-anchor="end" dominant-baseline="central" fill="#333" class="s">-100</text>
<text x="406.5" y="62.1" font-size="3.8" text-anchor="end" dominant-baseline="central" fill="#333" class="s">-150</text>
<text x="408.7" y="66.9" font-size="3.8" text-anchor="middle" fill="#333" class="s">0.095</text>
<text x="421.12" y="66.9" font-size="3.8" text-anchor="middle" fill="#333" class="s">0.098</text>
<text x="433.55" y="66.9" font-size="3.8" text-anchor="middle" fill="#333" class="s">0.100</text>
<text x="445.97" y="66.9" font-size="3.8" text-anchor="middle" fill="#333" class="s">0.103</text>
<text x="458.4" y="66.9" font-size="3.8" text-anchor="middle" fill="#333" class="s">0.105</text>
<path d="M221.5 217V401M261.5 217V401M302.5 217V401M342.5 217V401M382.5 217V401M181.2 382.5H423.3M181.2 364.5H423.3M181.2 346.5H423.3M181.2 327.5H423.3M181.2 309.5H423.3M181.2 290.5H423.3M181.2 272.5H423.3M181.2 253.5H423.3M181.2 235.5H423.3" stroke="#e4e4e4" stroke-width="1.0" fill="none"/>
<path d="M181.2 309.2L181.7 307.75L182.2 306.3L182.7 304.85L183.2 303.4L183.7 301.95L184.2 300.51L184.7 299.06L185.2 297.63L185.7 296.2L186.2 294.77L186.7 293.35L187.2 291.93L187.7 290.52L188.2 289.12L188.7 287.72L189.2 286.34L189.7 284.96L190.2 283.59L190.7 282.23L191.2 280.88L191.7 279.54L192.2 278.22L192.7 276.9L193.2 275.6L193.71 274.31L194.21 273.03L194.71 271.77L195.21 270.52L195.71 269.28L196.21 268.07L196.71 266.86L197.21 265.67L197.71 264.5L198.21 263.35L198.71 262.21L199.21 261.09L199.71 259.99L200.21 258.91L200.71 257.85L201.21 256.8L201.71 255.78L202.21 254.78L202.71 253.79L203.21 252.83L203.71 251.89L204.21 250.97L204.71 250.08L205.21 249.2L205.71 248.35L206.21 247.52L206.71 246.72L207.21 245.94L207.71 245.18L208.21 244.45L208.71 243.74L209.21 243.06L209.71 242.4L210.21 241.76L210.71 241.16L211.21 240.57L211.71 240.02L212.21 239.49L212.71 238.99L213.21 238.51L213.71 238.06L214.21 237.64L214.71 237.24L215.21 236.87L215.71 236.53L216.21 236.22L216.71 235.93L217.21 235.68L217.72 235.45L218.22 235.24L218.72 235.07L219.22 234.92L219.72 234.81L220.22 234.72L220.72 234.65L221.22 234.62L221.72 234.62L222.22 234.64L222.72 234.69L223.22 234.77L223.72 234.88L224.22 235.02L224.72 235.18L225.22 235.37L225.72 235.6L226.22 235.84L226.72 236.12L227.22 236.42L227.72 236.76L228.22 237.12L228.72 237.5L229.22 237.92L229.72 238.36L230.22 238.82L230.72 239.32L231.22 239.84L231.72 240.39L232.22 240.96L232.72 241.56L233.22 242.18L233.72 242.83L234.22 243.51L234.72 244.21L235.22 244.93L235.72 245.68L236.22 246.46L236.72 247.25L237.22 248.07L237.72 248.92L238.22 249.78L238.72 250.67L239.22 251.58L239.72 252.52L240.22 253.47L240.72 254.45L241.22 255.44L241.72 256.46L242.23 257.5L242.73 258.55L243.23 259.63L243.73 260.72L244.23 261.84L244.73 262.97L245.23 264.12L245.73 265.28L246.23 266.46L246.73 267.66L247.23 268.88L247.73 270.11L248.23 271.35L248.73 272.61L249.23 273.88L249.73 275.17L250.23 276.47L250.73 277.78L251.23 279.1L251.73 280.43L252.23 281.78L252.73 283.14L253.23 284.5L253.73 285.88L254.23 287.26L254.73 288.65L255.23 290.05L255.73 291.46L256.23 292.87L256.73 294.29L257.23 295.72L257.73 297.15L258.23 298.59L258.73 300.03L259.23 301.47L259.73 302.91L260.23 304.36L260.73 305.81L261.23 307.26L261.73 308.72L262.23 310.17L262.73 311.62L263.23 313.07L263.73 314.52L264.23 315.97L264.73 317.41L265.23 318.86L265.73 320.29L266.24 321.73L266.74 323.16L267.24 324.58L267.74 326L268.24 327.41L268.74 328.82L269.24 330.21L269.74 331.6L270.24 332.98L270.74 334.36L271.24 335.72L271.74 337.07L272.24 338.41L272.74 339.74L273.24 341.06L273.74 342.37L274.24 343.66L274.74 344.94L275.24 346.21L275.74 347.47L276.24 348.71L276.74 349.93L277.24 351.14L277.74 352.33L278.24 353.51L278.74 354.67L279.24 355.81L279.74 356.94L280.24 358.04L280.74 359.13L281.24 360.2L281.74 361.25L282.24 362.28L282.74 363.29L283.24 364.28L283.74 365.25L284.24 366.2L284.74 367.12L285.24 368.03L285.74 368.91L286.24 369.77L286.74 370.6L287.24 371.42L287.74 372.2L288.24 372.97L288.74 373.71L289.24 374.43L289.74 375.12L290.25 375.79L290.75 376.43L291.25 377.04L291.75 377.63L292.25 378.2L292.75 378.74L293.25 379.25L293.75 379.73L294.25 380.19L294.75 380.63L295.25 381.03L295.75 381.41L296.25 381.76L296.75 382.08L297.25 382.37L297.75 382.64L298.25 382.88L298.75 383.09L299.25 383.28L299.75 383.43L300.25 383.56L300.75 383.66L301.25 383.73L301.75 383.77L302.25 383.78L302.75 383.77L303.25 383.73L303.75 383.66L304.25 383.56L304.75 383.43L305.25 383.28L305.75 383.09L306.25 382.88L306.75 382.64L307.25 382.37L307.75 382.08L308.25 381.76L308.75 381.41L309.25 381.03L309.75 380.63L310.25 380.19L310.75 379.73L311.25 379.25L311.75 378.74L312.25 378.2L312.75 377.63L313.25 377.04L313.75 376.43L314.25 375.79L314.76 375.12L315.26 374.43L315.76 373.71L316.26 372.97L316.76 372.2L317.26 371.42L317.76 370.6L318.26 369.77L318.76 368.91L319.26 368.03L319.76 367.12L320.26 366.2L320.76 365.25L321.26 364.28L321.76 363.29L322.26 362.28L322.76 361.25L323.26 360.2L323.76 359.13L324.26 358.04L324.76 356.94L325.26 355.81L325.76 354.67L326.26 353.51L326.76 352.33L327.26 351.14L327.76 349.93L328.26 348.71L328.76 347.47L329.26 346.21L329.76 344.94L330.26 343.66L330.76 342.37L331.26 341.06L331.76 339.74L332.26 338.41L332.76 337.07L333.26 335.72L333.76 334.36L334.26 332.98L334.76 331.6L335.26 330.21L335.76 328.82L336.26 327.41L336.76 326L337.26 324.58L337.76 323.16L338.26 321.73L338.77 320.29L339.27 318.86L339.77 317.41L340.27 315.97L340.77 314.52L341.27 313.07L341.77 311.62L342.27 310.17L342.77 308.72L343.27 307.26L343.77 305.81L344.27 304.36L344.77 302.91L345.27 301.47L345.77 300.03L346.27 298.59L346.77 297.15L347.27 295.72L347.77 294.29L348.27 292.87L348.77 291.46L349.27 290.05L349.77 288.65L350.27 287.26L350.77 285.88L351.27 284.5L351.77 283.14L352.27 281.78L352.77 280.43L353.27 279.1L353.77 277.78L354.27 276.47L354.77 275.17L355.27 273.88L355.77 272.61L356.27 271.35L356.77 270.11L357.27 268.88L357.77 267.66L358.27 266.46L358.77 265.28L359.27 264.12L359.77 262.97L360.27 261.84L360.77 260.72L361.27 259.63L361.77 258.55L362.27 257.5L362.77 256.46L363.28 255.44L363.78 254.45L364.28 253.47L364.78 252.52L365.28 251.58L365.78 250.67L366.28 249.78L366.78 248.92L367.28 248.07L367.78 247.25L368.28 246.46L368.78 245.68L369.28 244.93L369.78 244.21L370.28 243.51L370.78 242.83L371.28 242.18L371.78 241.56L372.28 240.96L372.78 240.39L373.28 239.84L373.78 239.32L374.28 238.82L374.78 238.36L375.28 237.92L375.78 237.5L376.28 237.12L376.78 236.76L377.28 236.42L377.78 236.12L378.28 235.84L378.78 235.6L379.28 235.37L379.78 235.18L380.28 235.02L380.78 234.88L381.28 234.77L381.78 234.69L382.28 234.64L382.78 234.62L383.28 234.62L383.78 234.65L384.28 234.72L384.78 234.81L385.28 234.92L385.78 235.07L386.28 235.24L386.78 235.45L387.29 235.68L387.79 235.93L388.29 236.22L388.79 236.53L389.29 236.87L389.79 237.24L390.29 237.64L390.79 238.06L391.29 238.51L391.79 238.99L392.29 239.49L392.79 240.02L393.29 240.57L393.79 241.16L394.29 241.76L394.79 242.4L395.29 243.06L395.79 243.74L396.29 244.45L396.79 245.18L397.29 245.94L397.79 246.72L398.29 247.52L398.79 248.35L399.29 249.2L399.79 250.08L400.29 250.97L400.79 251.89L401.29 252.83L401.79 253.79L402.29 254.78L402.79 255.78L403.29 256.8L403.79 257.85L404.29 258.91L404.79 259.99L405.29 261.09L405.79 262.21L406.29 263.35L406.79 264.5L407.29 265.67L407.79 266.86L408.29 268.07L408.79 269.28L409.29 270.52L409.79 271.77L410.29 273.03L410.79 274.31L411.3 275.6L411.8 276.9L412.3 278.22L412.8 279.54L413.3 280.88L413.8 282.23L414.3 283.59L414.8 284.96L415.3 286.34L415.8 287.72L416.3 289.12L416.8 290.52L417.3 291.93L417.8 293.35L418.3 294.77L418.8 296.2L419.3 297.63L419.8 299.06L420.3 300.51L420.8 301.95L421.3 303.4L421.8 304.85L422.3 306.3L422.8 307.75L423.3 309.2" stroke="#2626ff" stroke-width="1.4" fill="none" stroke-linejoin="round"/>
<path d="M181.2 382.9H183.4M181.2 364.47H182.6M181.2 346.05H183.4M181.2 327.62H182.6M181.2 309.2H183.4M181.2 290.77H182.6M181.2 272.35H183.4M181.2 253.92H182.6M181.2 235.5H183.4M221.55 401V399M261.9 401V399M302.25 401V399M342.6 401V399M382.95 401V399" stroke="#3a3a3a" stroke-width="1" fill="none"/>
<rect x="181.2" y="217" width="242.1" height="184" stroke="#3a3a3a" stroke-width="1.15" fill="none"/>
<text x="178.6" y="236.3" font-size="10.3" text-anchor="end" dominant-baseline="central">1000</text>
<text x="178.6" y="273.15" font-size="10.3" text-anchor="end" dominant-baseline="central">500</text>
<text x="178.6" y="310" font-size="10.3" text-anchor="end" dominant-baseline="central">0</text>
<text x="178.6" y="346.85" font-size="10.3" text-anchor="end" dominant-baseline="central">−500</text>
<text x="178.6" y="383.7" font-size="10.3" text-anchor="end" dominant-baseline="central">−1000</text>
<text transform="translate(149.6 304.2) rotate(-90)" font-size="12.1" text-anchor="middle">Speed [r/min]</text>
<text y="419.9" font-size="11.6">
<tspan x="255.9" textLength="24.5" lengthAdjust="spacingAndGlyphs">Time</tspan>
<tspan x="283.4" y="421.9" font-size="16.4">[</tspan>
<tspan x="290.2" y="419.9" textLength="46.6" lengthAdjust="spacingAndGlyphs">50ms·div</tspan>
<tspan x="339" y="415.3" font-size="8.4">-1</tspan>
<tspan x="346.6" y="421.9" font-size="16.4">]</tspan>
</text>
<text x="301.5" y="443.6" font-size="15.8" text-anchor="middle">(c)</text>
<rect x="353.4" y="360" width="67.1" height="30.3" fill="#fff" stroke="#bdbdbd" stroke-width="0.8"/>
<path d="M354.7 368.2H381.4" stroke="#ff2b2b" stroke-width="1.4"/>
<path d="M354.7 382.6H381.4" stroke="#2626ff" stroke-width="1.4"/>
<text x="384.4" y="372.4" font-size="11.5">Motor1</text>
<text x="384.4" y="386.8" font-size="11.5">Motor2</text>
<line x1="248.4" y1="300" x2="277.2" y2="300" stroke="#ff3030" stroke-width="1.45" stroke-dasharray="4.6 4.2" stroke-dashoffset="0"/>
<line x1="248.4" y1="300" x2="248.4" y2="322.2" stroke="#ff3030" stroke-width="1.45" stroke-dasharray="4.6 4.2" stroke-dashoffset="0"/>
<line x1="248.4" y1="322.2" x2="277.2" y2="322.2" stroke="#ff3030" stroke-width="1.45" stroke-dasharray="4.6 4.2" stroke-dashoffset="1.6"/>
<line x1="277.2" y1="300" x2="277.2" y2="322.2" stroke="#ff3030" stroke-width="1.45" stroke-dasharray="4.6 4.2" stroke-dashoffset="0"/>
<path d="M280.4 305.2L285.85 299.93" stroke="#111" stroke-width="1"/>
<path d="M289.8 296.1L286.89 301L284.81 298.85Z" fill="#111"/>
<rect x="287.6" y="240.6" width="55.5" height="48.2" fill="#fff"/>
<path d="M287.6 247.49H343.1M287.6 257.81H343.1M287.6 268.14H343.1M287.6 278.47H343.1" stroke="#e2e2e2" stroke-width="0.7" fill="none"/>
<path d="M296.85 240.6V288.8M306.1 240.6V288.8M315.35 240.6V288.8M324.6 240.6V288.8M333.85 240.6V288.8" stroke="#e2e2e2" stroke-width="0.7" fill="none"/>
<clipPath id="cc"><rect x="287.6" y="240.6" width="55.5" height="48.2"/></clipPath>
<g clip-path="url(#cc)">
<path d="M294.54 245.32L294.66 245.44L294.78 245.55L294.9 245.66L295.02 245.78L295.14 245.89L295.27 246L295.39 246.12L295.51 246.23L295.63 246.34L295.75 246.46L295.87 246.57L295.99 246.69L296.12 246.8L296.24 246.91L296.36 247.03L296.48 247.14L296.6 247.25L296.72 247.37L296.84 247.48L296.97 247.59L297.09 247.71L297.21 247.82L297.33 247.93L297.45 248.05L297.57 248.16L297.69 248.28L297.82 248.39L297.94 248.5L298.06 248.62L298.18 248.73L298.3 248.84L298.42 248.96L298.54 249.07L298.67 249.18L298.79 249.3L298.91 249.41L299.03 249.52L299.15 249.64L299.27 249.75L299.39 249.87L299.52 249.98L299.64 250.09L299.76 250.21L299.88 250.32L300 250.43L300.12 250.55L300.24 250.66L300.37 250.77L300.49 250.89L300.61 251L300.73 251.11L300.85 251.23L300.97 251.34L301.09 251.45L301.21 251.57L301.34 251.68L301.46 251.8L301.58 251.91L301.7 252.02L301.82 252.14L301.94 252.25L302.06 252.36L302.19 252.48L302.31 252.59L302.43 252.7L302.55 252.82L302.67 252.93L302.79 253.04L302.91 253.16L303.04 253.27L303.16 253.38L303.28 253.5L303.4 253.61L303.52 253.72L303.64 253.84L303.76 253.95L303.89 254.06L304.01 254.18L304.13 254.29L304.25 254.41L304.37 254.52L304.49 254.63L304.61 254.75L304.74 254.86L304.86 254.97L304.98 255.09L305.1 255.2L305.22 255.31L305.34 255.43L305.46 255.54L305.59 255.65L305.71 255.77L305.83 255.88L305.95 255.99L306.07 256.11L306.19 256.22L306.31 256.33L306.44 256.45L306.56 256.56L306.68 256.67L306.8 256.79L306.92 256.9L307.04 257.01L307.16 257.13L307.29 257.24L307.41 257.35L307.53 257.47L307.65 257.58L307.77 257.69L307.89 257.81L308.01 257.92L308.14 258.03L308.26 258.15L308.38 258.26L308.5 258.37L308.62 258.48L308.74 258.6L308.86 258.71L308.98 258.82L309.11 258.94L309.23 259.05L309.35 259.16L309.47 259.28L309.59 259.39L309.71 259.5L309.83 259.62L309.96 259.73L310.08 259.84L310.2 259.96L310.32 260.07L310.44 260.18L310.56 260.3L310.68 260.41L310.81 260.52L310.93 260.63L311.05 260.75L311.17 260.86L311.29 260.97L311.41 261.09L311.53 261.2L311.66 261.31L311.78 261.43L311.9 261.54L312.02 261.65L312.14 261.76L312.26 261.88L312.38 261.99L312.51 262.1L312.63 262.22L312.75 262.33L312.87 262.44L312.99 262.55L313.11 262.67L313.23 262.78L313.36 262.89L313.48 263.01L313.6 263.12L313.72 263.23L313.84 263.34L313.96 263.46L314.08 263.57L314.21 263.68L314.33 263.8L314.45 263.91L314.57 264.02L314.69 264.13L314.81 264.25L314.93 264.36L315.06 264.47L315.18 264.58L315.3 264.7L315.42 264.81L315.54 264.92L315.66 265.04L315.78 265.15L315.91 265.26L316.03 265.37L316.15 265.49L316.27 265.6L316.39 265.71L316.51 265.82L316.63 265.94L316.75 266.05L316.88 266.16L317 266.27L317.12 266.39L317.24 266.5L317.36 266.61L317.48 266.72L317.6 266.84L317.73 266.95L317.85 267.06L317.97 267.17L318.09 267.29L318.21 267.4L318.33 267.51L318.45 267.62L318.58 267.74L318.7 267.85L318.82 267.96L318.94 268.07L319.06 268.18L319.18 268.3L319.3 268.41L319.43 268.52L319.55 268.63L319.67 268.75L319.79 268.86L319.91 268.97L320.03 269.08L320.15 269.19L320.28 269.31L320.4 269.42L320.52 269.53L320.64 269.64L320.76 269.76L320.88 269.87L321 269.98L321.13 270.09L321.25 270.2L321.37 270.32L321.49 270.43L321.61 270.54L321.73 270.65L321.85 270.76L321.98 270.88L322.1 270.99L322.22 271.1L322.34 271.21L322.46 271.32L322.58 271.43L322.7 271.55L322.83 271.66L322.95 271.77L323.07 271.88L323.19 271.99L323.31 272.11L323.43 272.22L323.55 272.33L323.68 272.44L323.8 272.55L323.92 272.66L324.04 272.78L324.16 272.89L324.28 273L324.4 273.11L324.52 273.22L324.65 273.33L324.77 273.44L324.89 273.56L325.01 273.67L325.13 273.78L325.25 273.89L325.37 274L325.5 274.11L325.62 274.23L325.74 274.34L325.86 274.45L325.98 274.56L326.1 274.67L326.22 274.78L326.35 274.89L326.47 275L326.59 275.12L326.71 275.23L326.83 275.34L326.95 275.45L327.07 275.56L327.2 275.67L327.32 275.78L327.44 275.89L327.56 276.01L327.68 276.12L327.8 276.23L327.92 276.34L328.05 276.45L328.17 276.56L328.29 276.67L328.41 276.78L328.53 276.89L328.65 277L328.77 277.12L328.9 277.23L329.02 277.34L329.14 277.45L329.26 277.56L329.38 277.67L329.5 277.78L329.62 277.89L329.75 278L329.87 278.11L329.99 278.22L330.11 278.33L330.23 278.44L330.35 278.56L330.47 278.67L330.6 278.78L330.72 278.89L330.84 279L330.96 279.11L331.08 279.22L331.2 279.33L331.32 279.44L331.45 279.55L331.57 279.66L331.69 279.77L331.81 279.88L331.93 279.99L332.05 280.1L332.17 280.21L332.29 280.32L332.42 280.43L332.54 280.54L332.66 280.65L332.78 280.76L332.9 280.87L333.02 280.98L333.14 281.09L333.27 281.2L333.39 281.31L333.51 281.42L333.63 281.53L333.75 281.64L333.87 281.75L333.99 281.86L334.12 281.97L334.24 282.08L334.36 282.19L334.48 282.3L334.6 282.41L334.72 282.52L334.84 282.63L334.97 282.74L335.09 282.85L335.21 282.96L335.33 283.07L335.45 283.18L335.57 283.29L335.69 283.4L335.82 283.51L335.94 283.62L336.06 283.73L336.18 283.84L336.3 283.95L336.42 284.06L336.54 284.17L336.67 284.28L336.79 284.39L336.91 284.5L337.03 284.61L337.15 284.72L337.27 284.83L337.39 284.93L337.52 285.04L337.64 285.15L337.76 285.26L337.88 285.37L338 285.48L338.12 285.59L338.24 285.7L338.37 285.81L338.49 285.92L338.61 286.03L338.73 286.14L338.85 286.24L338.97 286.35L339.09 286.46L339.22 286.57L339.34 286.68L339.46 286.79L339.58 286.9L339.7 287.01L339.82 287.12L339.94 287.22L340.06 287.33L340.19 287.44L340.31 287.55L340.43 287.66L340.55 287.77L340.67 287.88L340.79 287.98L340.91 288.09L341.04 288.2L341.16 288.31L341.28 288.42L341.4 288.53L341.52 288.64L341.64 288.74L341.76 288.85L341.89 288.96L342.01 289.07L342.13 289.18L342.25 289.28L342.37 289.39L342.49 289.5L342.61 289.61L342.74 289.72L342.86 289.83L342.98 289.93L343.1 290.04" stroke="#ff2b2b" stroke-width="1.5" fill="none"/>
<path d="M287.6 238.84L287.74 238.97L287.88 239.1L288.02 239.23L288.15 239.36L288.29 239.49L288.43 239.62L288.57 239.75L288.71 239.88L288.85 240L288.99 240.13L289.13 240.26L289.27 240.39L289.4 240.52L289.54 240.65L289.68 240.78L289.82 240.91L289.96 241.04L290.1 241.17L290.24 241.3L290.38 241.43L290.51 241.56L290.65 241.69L290.79 241.82L290.93 241.95L291.07 242.08L291.21 242.21L291.35 242.34L291.49 242.47L291.62 242.6L291.76 242.73L291.9 242.86L292.04 242.99L292.18 243.12L292.32 243.25L292.46 243.38L292.6 243.51L292.73 243.64L292.87 243.77L293.01 243.9L293.15 244.02L293.29 244.15L293.43 244.28L293.57 244.41L293.71 244.54L293.84 244.67L293.98 244.8L294.12 244.93L294.26 245.06L294.4 245.19L294.54 245.32L294.68 245.45L294.82 245.58L294.95 245.71L295.09 245.84L295.23 245.97L295.37 246.1L295.51 246.23L295.65 246.36L295.79 246.49L295.93 246.62L296.06 246.75L296.2 246.88L296.34 247.01L296.48 247.14L296.62 247.27L296.76 247.4L296.9 247.48L297.04 247.46L297.17 247.45L297.31 247.43L297.45 247.42L297.59 247.41L297.73 247.41L297.87 247.4L298.01 247.41L298.15 247.42L298.28 247.44L298.42 247.46L298.56 247.49L298.7 247.53L298.84 247.58L298.98 247.64L299.12 247.71L299.25 247.78L299.39 247.87L299.53 247.97L299.67 248.07L299.81 248.19L299.95 248.32L300.09 248.45L300.23 248.59L300.37 248.74L300.5 248.89L300.64 249.05L300.78 249.21L300.92 249.38L301.06 249.56L301.2 249.74L301.34 249.92L301.48 250.11L301.61 250.3L301.75 250.49L301.89 250.69L302.03 250.89L302.17 251.09L302.31 251.3L302.45 251.5L302.58 251.71L302.72 251.92L302.86 252.13L303 252.34L303.14 252.54L303.28 252.75L303.42 252.95L303.56 253.16L303.69 253.35L303.83 253.55L303.97 253.75L304.11 253.93L304.25 254.12L304.39 254.3L304.53 254.48L304.67 254.65L304.81 254.82L304.94 254.98L305.08 255.14L305.22 255.29L305.36 255.43L305.5 255.57L305.64 255.7L305.78 255.83L305.92 255.96L306.05 256.09L306.19 256.22L306.33 256.35L306.47 256.48L306.61 256.61L306.75 256.74L306.89 256.87L307.02 257L307.16 257.13L307.3 257.26L307.44 257.38L307.58 257.51L307.72 257.64L307.86 257.77L308 257.9L308.14 258.03L308.27 258.16L308.41 258.29L308.55 258.42L308.69 258.55L308.83 258.68L308.97 258.81L309.11 258.94L309.25 259.07L309.38 259.2L309.52 259.33L309.66 259.45L309.8 259.58L309.94 259.71L310.08 259.84L310.22 259.97L310.36 260.1L310.49 260.23L310.63 260.36L310.77 260.49L310.91 260.62L311.05 260.75L311.19 260.88L311.33 261.01L311.47 261.13L311.6 261.26L311.74 261.39L311.88 261.52L312.02 261.65L312.16 261.78L312.3 261.91L312.44 262.04L312.58 262.17L312.71 262.3L312.85 262.43L312.99 262.55L313.13 262.68L313.27 262.81L313.41 262.94L313.55 263.07L313.69 263.2L313.82 263.33L313.96 263.46L314.1 263.59L314.24 263.72L314.38 263.84L314.52 263.97L314.66 264.1L314.8 264.23L314.93 264.36L315.07 264.49L315.21 264.62L315.35 264.75L315.49 264.87L315.63 265L315.77 265.13L315.91 265.26L316.04 265.39L316.18 265.52L316.32 265.65L316.46 265.78L316.6 265.9L316.74 266.03L316.88 266.16L317.02 266.29L317.15 266.42L317.29 266.55L317.43 266.68L317.57 266.8L317.71 266.93L317.85 267.06L317.99 267.19L318.12 267.32L318.26 267.45L318.4 267.57L318.54 267.7L318.68 267.83L318.82 267.96L318.96 268.09L319.1 268.22L319.24 268.35L319.37 268.47L319.51 268.6L319.65 268.73L319.79 268.86L319.93 268.99L320.07 269.11L320.21 269.24L320.35 269.37L320.48 269.5L320.62 269.63L320.76 269.76L320.9 269.88L321.04 270.01L321.18 270.14L321.32 270.27L321.45 270.4L321.59 270.52L321.73 270.65L321.87 270.78L322.01 270.91L322.15 271.03L322.29 271.16L322.43 271.29L322.56 271.42L322.7 271.55L322.84 271.67L322.98 271.8L323.12 271.93L323.26 272.06L323.4 272.19L323.54 272.31L323.68 272.44L323.81 272.57L323.95 272.7L324.09 272.82L324.23 272.95L324.37 273.08L324.51 273.21L324.65 273.33L324.78 273.46L324.92 273.59L325.06 273.72L325.2 273.84L325.34 273.97L325.48 274.1L325.62 274.23L325.76 274.35L325.89 274.48L326.03 274.61L326.17 274.73L326.31 274.86L326.45 274.99L326.59 275.12L326.73 275.24L326.87 275.37L327.01 275.5L327.14 275.62L327.28 275.75L327.42 275.88L327.56 276.01L327.7 276.13L327.84 276.26L327.98 276.39L328.12 276.51L328.25 276.64L328.39 276.77L328.53 276.89L328.67 277.02L328.81 277.15L328.95 277.27L329.09 277.4L329.23 277.53L329.36 277.65L329.5 277.78L329.64 277.91L329.78 278.03L329.92 278.16L330.06 278.29L330.2 278.41L330.34 278.54L330.47 278.67L330.61 278.79L330.75 278.92L330.89 279.05L331.03 279.17L331.17 279.3L331.31 279.42L331.45 279.55L331.58 279.68L331.72 279.8L331.86 279.93L332 280.06L332.14 280.18L332.28 280.31L332.42 280.43L332.56 280.56L332.69 280.69L332.83 280.81L332.97 280.94L333.11 281.06L333.25 281.19L333.39 281.31L333.53 281.44L333.67 281.57L333.8 281.69L333.94 281.82L334.08 281.94L334.22 282.07L334.36 282.19L334.5 282.32L334.64 282.45L334.78 282.57L334.91 282.7L335.05 282.82L335.19 282.95L335.33 283.07L335.47 283.2L335.61 283.32L335.75 283.45L335.89 283.57L336.02 283.7L336.16 283.82L336.3 283.95L336.44 284.08L336.58 284.2L336.72 284.33L336.86 284.45L337 284.58L337.13 284.7L337.27 284.83L337.41 284.95L337.55 285.08L337.69 285.2L337.83 285.32L337.97 285.45L338.11 285.57L338.24 285.7L338.38 285.82L338.52 285.95L338.66 286.07L338.8 286.2L338.94 286.32L339.08 286.45L339.22 286.57L339.35 286.7L339.49 286.82L339.63 286.94L339.77 287.07L339.91 287.19L340.05 287.32L340.19 287.44L340.32 287.57L340.46 287.69L340.6 287.81L340.74 287.94L340.88 288.06L341.02 288.19L341.16 288.31L341.3 288.43L341.44 288.56L341.57 288.68L341.71 288.81L341.85 288.93L341.99 289.05L342.13 289.18L342.27 289.3L342.41 289.42L342.55 289.55L342.68 289.67L342.82 289.79L342.96 289.92L343.1 290.04" stroke="#2626ff" stroke-width="1.3" fill="none"/>
</g>
<path d="M287.6 247.49H289.6M287.6 257.81H289.6M287.6 268.14H289.6M287.6 278.47H289.6M296.85 288.8V286.8M306.1 288.8V286.8M315.35 288.8V286.8M324.6 288.8V286.8M333.85 288.8V286.8" stroke="#222" stroke-width="0.8" fill="none"/>
<rect x="287.6" y="240.6" width="55.5" height="48.2" fill="none" stroke="#1a1a1a" stroke-width="1.3"/>
<text x="285.4" y="240.6" font-size="4.2" text-anchor="end" dominant-baseline="central" fill="#333" class="s"></text>
<text x="285.4" y="247.49" font-size="4.2" text-anchor="end" dominant-baseline="central" fill="#333" class="s">0</text>
<text x="285.4" y="257.81" font-size="4.2" text-anchor="end" dominant-baseline="central" fill="#333" class="s">-75</text>
<text x="285.4" y="268.14" font-size="4.2" text-anchor="end" dominant-baseline="central" fill="#333" class="s">-150</text>
<text x="285.4" y="278.47" font-size="4.2" text-anchor="end" dominant-baseline="central" fill="#333" class="s">-225</text>
<text x="285.4" y="288.8" font-size="4.2" text-anchor="end" dominant-baseline="central" fill="#333" class="s">-300</text>
<text x="287.6" y="294.2" font-size="4.2" text-anchor="middle" fill="#333" class="s">0.0980</text>
<text x="296.85" y="294.2" font-size="4.2" text-anchor="middle" fill="#333" class="s">0.1000</text>
<text x="306.1" y="294.2" font-size="4.2" text-anchor="middle" fill="#333" class="s">0.1020</text>
<text x="315.35" y="294.2" font-size="4.2" text-anchor="middle" fill="#333" class="s">0.1040</text>
<text x="324.6" y="294.2" font-size="4.2" text-anchor="middle" fill="#333" class="s">0.1060</text>
<text x="333.85" y="294.2" font-size="4.2" text-anchor="middle" fill="#333" class="s">0.1080</text>
<text x="343.1" y="294.2" font-size="4.2" text-anchor="middle" fill="#333" class="s">0.110</text>
</svg>
</body></html>
